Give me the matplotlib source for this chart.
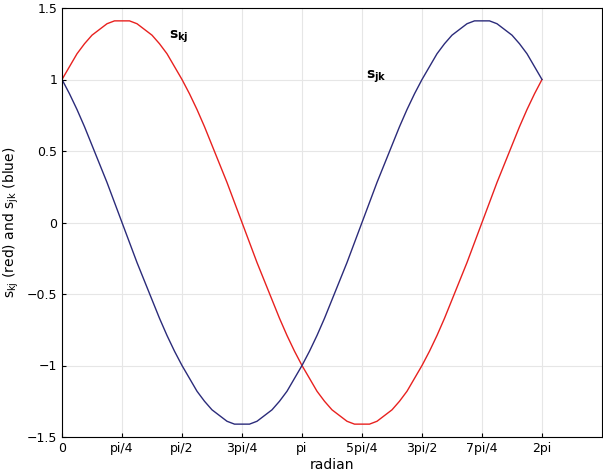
import numpy as np
import matplotlib
matplotlib.use('Agg')
from matplotlib import pyplot as plt

# samples at k*pi/32, k = 0..64
step_k = list(range(65))
s_kj = [1.0, 1.09, 1.18, 1.25, 1.31, 1.35, 1.39, 1.41, 1.41,
        1.41, 1.39, 1.35, 1.31, 1.25, 1.18, 1.09, 1.0, 0.90, 0.79, 0.67, 0.54, 0.41, 0.28, 0.14, 0.0,
        -0.14, -0.28, -0.41, -0.54, -0.67, -0.79, -0.90, -1.0, -1.09, -1.18, -1.25, -1.31, -1.35, -1.39, -1.41, -1.41,
        -1.41, -1.39, -1.35, -1.31, -1.25, -1.18, -1.09, -1.0, -0.90, -0.79, -0.67, -0.54, -0.41, -0.28, -0.14, 0.0,
        0.14, 0.28, 0.41, 0.54, 0.67, 0.79, 0.90, 1.0]
s_jk = [1.0, 0.90, 0.79, 0.67, 0.54, 0.41, 0.28, 0.14, 0.0,
        -0.14, -0.28, -0.41, -0.54, -0.67, -0.79, -0.90, -1.0, -1.09, -1.18, -1.25, -1.31, -1.35, -1.39, -1.41, -1.41,
        -1.41, -1.39, -1.35, -1.31, -1.25, -1.18, -1.09, -1.0, -0.90, -0.79, -0.67, -0.54, -0.41, -0.28, -0.14, 0.0,
        0.14, 0.28, 0.41, 0.54, 0.67, 0.79, 0.90, 1.0, 1.09, 1.18, 1.25, 1.31, 1.35, 1.39, 1.41, 1.41,
        1.41, 1.39, 1.35, 1.31, 1.25, 1.18, 1.09, 1.0]
tick_labels = ['0', 'pi/4', 'pi/2', '3pi/4', 'pi', '5pi/4', '3pi/2', '7pi/4', '2pi']

x = np.array(step_k) * np.pi / 32

fig = plt.figure(figsize=(6.03, 4.76), dpi=100)
ax = fig.add_axes([62 / 603, 39 / 476, 540 / 603, 429 / 476])
ax.plot(x, s_kj, color='#e8211f', lw=1)
ax.plot(x, s_jk, color='#2b2b7a', lw=1)
ax.set_xlim(0, 9 * np.pi / 4)
ax.set_ylim(-1.5, 1.5)
ax.set_xticks(np.arange(9) * np.pi / 4)
ax.set_xticklabels(tick_labels)
ax.set_yticks([-1.5, -1, -0.5, 0, 0.5, 1, 1.5])
ax.set_yticklabels(['\u22121.5', '\u22121', '\u22120.5', '0', '0.5', '1', '1.5'])
ax.grid(True, color='#e6e6e6', lw=0.8)
ax.set_axisbelow(True)
ax.tick_params(direction='in', labelsize=9, length=3)
ax.set_xlabel('radian', fontsize=10, labelpad=2)
ax.set_ylabel(r'$\mathregular{s_{kj}}$ (red) and $\mathregular{s_{jk}}$ (blue)', fontsize=10)
ax.text(1.53, 1.3, r'$\mathbf{s_{kj}}$', fontsize=10, ha='center', va='center')
ax.text(4.11, 1.02, r'$\mathbf{s_{jk}}$', fontsize=10, ha='center', va='center')
fig.savefig('out.png', dpi=100)
